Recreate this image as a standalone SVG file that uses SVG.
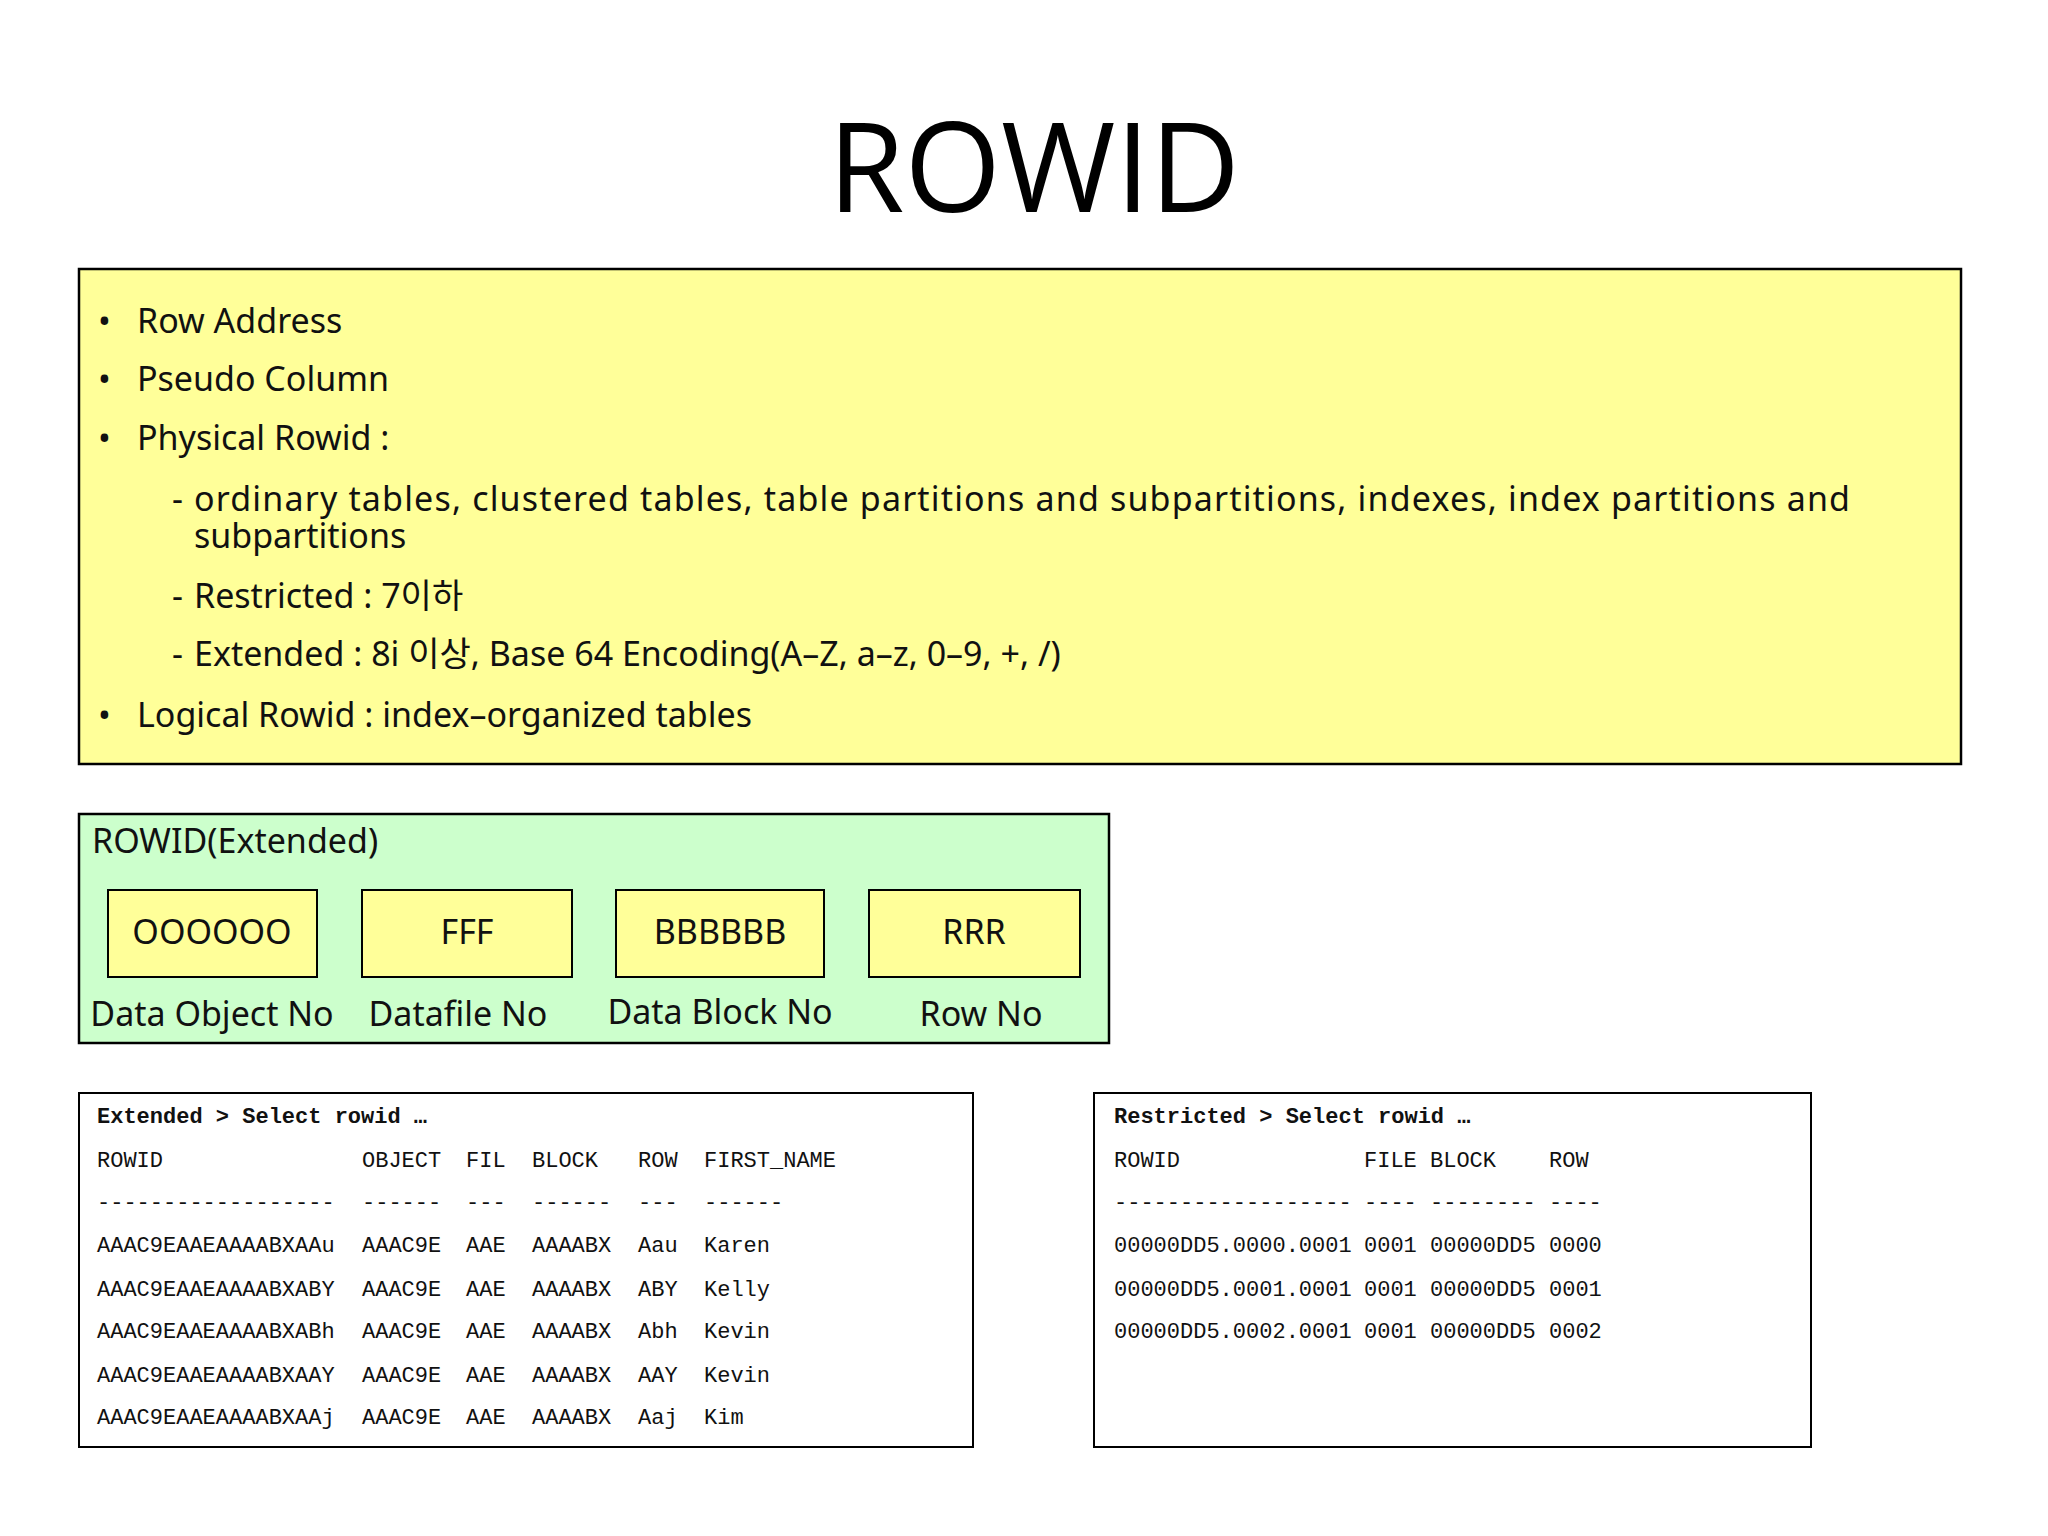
<svg xmlns="http://www.w3.org/2000/svg" width="2048" height="1536" viewBox="0 0 2048 1536">
<style>
.b{font-family:"Noto Sans","Noto Sans CJK KR","Liberation Sans",sans-serif;font-size:34px;fill:#111}
.m{font-family:"Liberation Mono","DejaVu Sans Mono",monospace;font-size:22px;fill:#111}
.box{fill:#FFFF99;stroke:#000;stroke-width:2}
</style>
<rect width="2048" height="1536" fill="#fff"/>
<text x="1034" y="212" text-anchor="middle" font-family="'Open Sans','Noto Sans',sans-serif" font-size="124" fill="#000">ROWID</text>
<g id="info">
<rect x="79" y="269" width="1882" height="495" fill="#FFFF99" stroke="#000" stroke-width="2.5"/>
<g class="b">
<text x="98" y="333">•</text><text x="137" y="333">Row Address</text>
<text x="98" y="391">•</text><text x="137" y="391">Pseudo Column</text>
<text x="98" y="450">•</text><text x="137" y="450">Physical Rowid :</text>
<text x="172" y="511">-</text><text x="194" y="511" textLength="1656" lengthAdjust="spacing">ordinary tables, clustered tables, table partitions and subpartitions, indexes, index partitions and</text>
<text x="194" y="548">subpartitions</text>
<text x="172" y="608">-</text><text x="194" y="608">Restricted : 7이하</text>
<text x="172" y="666">-</text><text x="194" y="666">Extended : 8i 이상, Base 64 Encoding(A–Z, a–z, 0–9, +, /)</text>
<text x="98" y="727">•</text><text x="137" y="727">Logical Rowid : index–organized tables</text>
</g>
</g>
<g id="extended">
<rect x="79" y="814" width="1030" height="229" fill="#CCFFCC" stroke="#000" stroke-width="2.5"/>
<text x="92" y="853" class="b">ROWID(Extended)</text>
<g id="n1"><rect class="box" x="108" y="890" width="209" height="87"/><text class="b" x="212" y="944" text-anchor="middle">OOOOOO</text><text class="b" x="212" y="1026" text-anchor="middle">Data Object No</text></g>
<g id="n2"><rect class="box" x="362" y="890" width="210" height="87"/><text class="b" x="467" y="944" text-anchor="middle">FFF</text><text class="b" x="458" y="1026" text-anchor="middle">Datafile No</text></g>
<g id="n3"><rect class="box" x="616" y="890" width="208" height="87"/><text class="b" x="720" y="944" text-anchor="middle">BBBBBB</text><text class="b" x="720" y="1024" text-anchor="middle">Data Block No</text></g>
<g id="n4"><rect class="box" x="869" y="890" width="211" height="87"/><text class="b" x="974" y="944" text-anchor="middle">RRR</text><text class="b" x="981" y="1026" text-anchor="middle">Row No</text></g>
</g>
<g id="ext-table" class="m">
<rect x="79" y="1093" width="894" height="354" fill="#fff" stroke="#000" stroke-width="2"/>
<text x="97" y="1123" font-weight="bold">Extended &gt; Select rowid …</text>
<text y="1167"><tspan x="97">ROWID</tspan><tspan x="362">OBJECT</tspan><tspan x="466">FIL</tspan><tspan x="532">BLOCK</tspan><tspan x="638">ROW</tspan><tspan x="704">FIRST_NAME</tspan></text>
<text y="1209"><tspan x="97">------------------</tspan><tspan x="362">------</tspan><tspan x="466">---</tspan><tspan x="532">------</tspan><tspan x="638">---</tspan><tspan x="704">------</tspan></text>
<text y="1252"><tspan x="97">AAAC9EAAEAAAABXAAu</tspan><tspan x="362">AAAC9E</tspan><tspan x="466">AAE</tspan><tspan x="532">AAAABX</tspan><tspan x="638">Aau</tspan><tspan x="704">Karen</tspan></text>
<text y="1296"><tspan x="97">AAAC9EAAEAAAABXABY</tspan><tspan x="362">AAAC9E</tspan><tspan x="466">AAE</tspan><tspan x="532">AAAABX</tspan><tspan x="638">ABY</tspan><tspan x="704">Kelly</tspan></text>
<text y="1338"><tspan x="97">AAAC9EAAEAAAABXABh</tspan><tspan x="362">AAAC9E</tspan><tspan x="466">AAE</tspan><tspan x="532">AAAABX</tspan><tspan x="638">Abh</tspan><tspan x="704">Kevin</tspan></text>
<text y="1382"><tspan x="97">AAAC9EAAEAAAABXAAY</tspan><tspan x="362">AAAC9E</tspan><tspan x="466">AAE</tspan><tspan x="532">AAAABX</tspan><tspan x="638">AAY</tspan><tspan x="704">Kevin</tspan></text>
<text y="1424"><tspan x="97">AAAC9EAAEAAAABXAAj</tspan><tspan x="362">AAAC9E</tspan><tspan x="466">AAE</tspan><tspan x="532">AAAABX</tspan><tspan x="638">Aaj</tspan><tspan x="704">Kim</tspan></text>
</g>
<g id="res-table" class="m">
<rect x="1094" y="1093" width="717" height="354" fill="#fff" stroke="#000" stroke-width="2"/>
<text x="1114" y="1123" font-weight="bold">Restricted &gt; Select rowid …</text>
<text y="1167"><tspan x="1114">ROWID</tspan><tspan x="1364">FILE BLOCK</tspan><tspan x="1549">ROW</tspan></text>
<text y="1209"><tspan x="1114">------------------</tspan><tspan x="1364">----</tspan><tspan x="1430">--------</tspan><tspan x="1549">----</tspan></text>
<text y="1252"><tspan x="1114">00000DD5.0000.0001</tspan><tspan x="1364">0001</tspan><tspan x="1430">00000DD5</tspan><tspan x="1549">0000</tspan></text>
<text y="1296"><tspan x="1114">00000DD5.0001.0001</tspan><tspan x="1364">0001</tspan><tspan x="1430">00000DD5</tspan><tspan x="1549">0001</tspan></text>
<text y="1338"><tspan x="1114">00000DD5.0002.0001</tspan><tspan x="1364">0001</tspan><tspan x="1430">00000DD5</tspan><tspan x="1549">0002</tspan></text>
</g>
</svg>
